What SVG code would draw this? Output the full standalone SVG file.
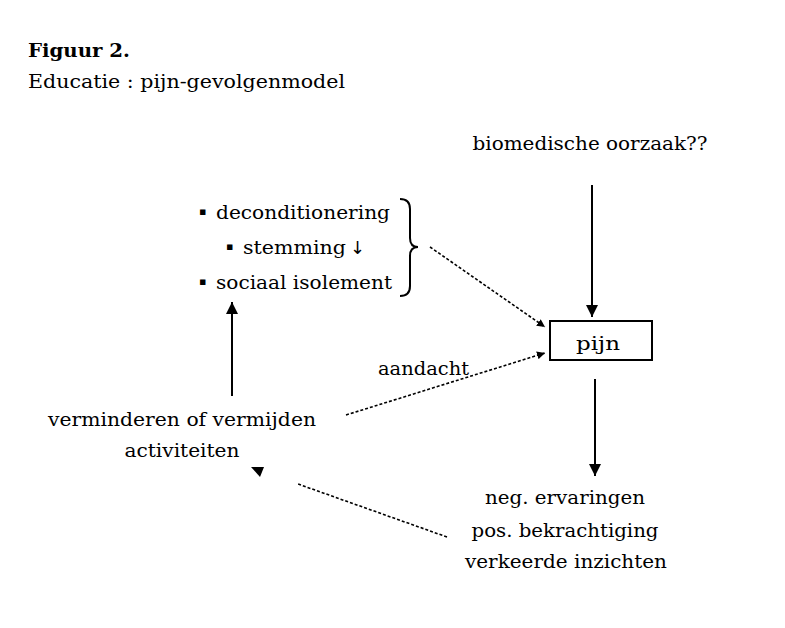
<svg xmlns="http://www.w3.org/2000/svg" width="785" height="628" viewBox="0 0 785 628">
<defs>
<style>
text{font-family:"DejaVu Serif","Liberation Serif",serif;font-size:19px;fill:#000}
.t{font-weight:bold}
.c{text-anchor:middle}
.b{font-size:11px}
.ar{font-family:"DejaVu Sans",sans-serif;font-size:18px}
.solid{stroke:#000;stroke-width:2;fill:none}
.dot{stroke:#000;stroke-width:1.6;fill:none;stroke-dasharray:3 2}
</style>
<marker id="ah" viewBox="0 0 10 10" refX="10" refY="5" markerWidth="6" markerHeight="6" orient="auto">
<path d="M0,0 L10,5 L0,10 z" fill="#000"/>
</marker>
<marker id="ahs" viewBox="0 0 10 10" refX="10" refY="5" markerWidth="5" markerHeight="5" orient="auto">
<path d="M0,0 L10,5 L0,10 z" fill="#000"/>
</marker>
</defs>
<rect width="785" height="628" fill="#fff"/>
<g id="title">
<text class="t" x="28" y="57" textLength="102" lengthAdjust="spacingAndGlyphs">Figuur 2.</text>
<text x="28" y="88" textLength="317" lengthAdjust="spacingAndGlyphs">Educatie : pijn-gevolgenmodel</text>
</g>
<g id="oorzaak"><text class="c" x="590" y="150" textLength="235" lengthAdjust="spacingAndGlyphs">biomedische oorzaak??</text></g>
<g id="pijn">
<rect x="550" y="321" width="102" height="39" fill="#fff" stroke="#000" stroke-width="2"/>
<text class="c" x="598" y="350" textLength="44" lengthAdjust="spacingAndGlyphs">pijn</text>
</g>
<g id="gevolgen">
<text class="b" x="199" y="215">▪</text>
<text x="216" y="219" textLength="174" lengthAdjust="spacingAndGlyphs">deconditionering</text>
<text class="b" x="226" y="250">▪</text>
<text x="243" y="254" textLength="103" lengthAdjust="spacingAndGlyphs">stemming</text>
<text class="ar" x="350" y="254">↓</text>
<text class="b" x="199" y="285">▪</text>
<text x="216" y="289" textLength="176" lengthAdjust="spacingAndGlyphs">sociaal isolement</text>
<path class="solid" stroke-width="1.6" d="M400,199 Q410,199 410,209 L410,238 Q410,247 418,247 Q410,247 410,256 L410,286 Q410,296 400,296"/>
</g>
<g id="vermijden">
<text class="c" x="182" y="426" textLength="268" lengthAdjust="spacingAndGlyphs">verminderen of vermijden</text>
<text class="c" x="182" y="457" textLength="115" lengthAdjust="spacingAndGlyphs">activiteiten</text>
</g>
<g id="aandacht"><text x="378" y="375" textLength="91" lengthAdjust="spacingAndGlyphs">aandacht</text></g>
<g id="ervaringen">
<text class="c" x="565" y="504" textLength="160" lengthAdjust="spacingAndGlyphs">neg. ervaringen</text>
<text class="c" x="565" y="537" textLength="187" lengthAdjust="spacingAndGlyphs">pos. bekrachtiging</text>
<text class="c" x="566" y="568" textLength="202" lengthAdjust="spacingAndGlyphs">verkeerde inzichten</text>
</g>
<g id="connectors">
<line class="solid" x1="592" y1="185" x2="592" y2="317" marker-end="url(#ah)"/>
<line class="solid" x1="595" y1="379" x2="595" y2="476" marker-end="url(#ah)"/>
<line class="solid" x1="232" y1="396" x2="232" y2="302" marker-end="url(#ah)"/>
<line class="dot" x1="430" y1="247" x2="545" y2="327" marker-end="url(#ahs)"/>
<line class="dot" x1="346" y1="415" x2="545" y2="353" marker-end="url(#ahs)"/>
<line class="dot" x1="447" y1="537" x2="298" y2="484"/>
<path d="M251,467 L264,467 L260,477 z" fill="#000"/>
</g>
</svg>
